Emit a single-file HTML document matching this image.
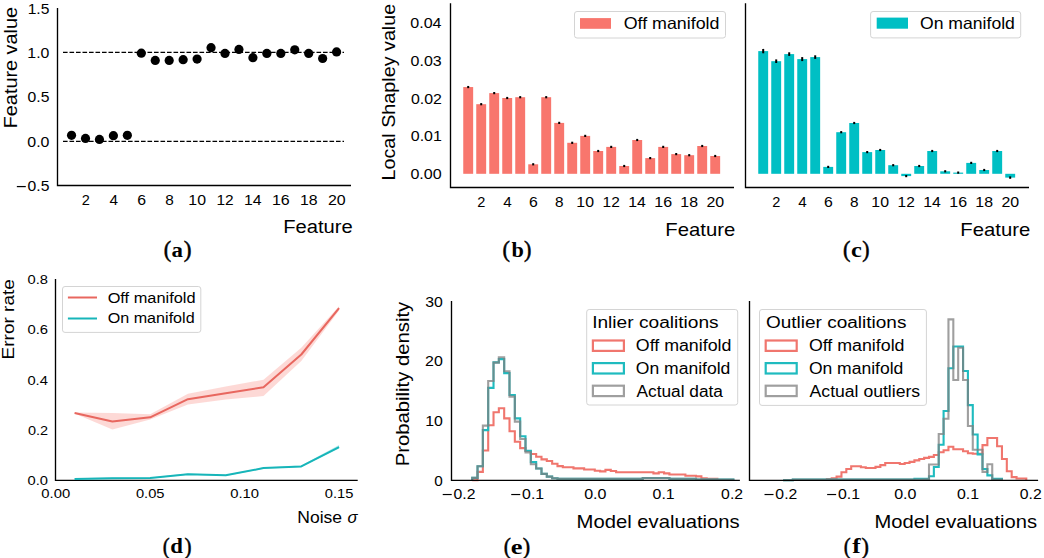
<!DOCTYPE html>
<html><head><meta charset="utf-8"><style>
html,body{margin:0;padding:0;background:#fff;}
body{width:1044px;height:558px;overflow:hidden;}
svg{display:block;font-family:"Liberation Sans",sans-serif;}
</style></head><body>
<svg width="1044" height="558" viewBox="0 0 1044 558">
<rect width="1044" height="558" fill="#fff"/>
<path d="M57.5 8V185.5H351" stroke="#000" stroke-width="1.35" fill="none" stroke-linejoin="miter"/>
<text x="27.68" y="13.7" font-size="15.51" text-anchor="start" textLength="21.75" lengthAdjust="spacingAndGlyphs">1.5</text>
<text x="27.38" y="57.9" font-size="15.29" text-anchor="start" textLength="22.06" lengthAdjust="spacingAndGlyphs">1.0</text>
<text x="27.58" y="102.3" font-size="15.29" text-anchor="start" textLength="21.85" lengthAdjust="spacingAndGlyphs">0.5</text>
<text x="27.28" y="146.7" font-size="15.29" text-anchor="start" textLength="22.16" lengthAdjust="spacingAndGlyphs">0.0</text>
<rect x="16.84" y="185.97" width="8.94" height="1.23" fill="#000"/>
<text x="27.62" y="191.1" font-size="15.29" text-anchor="start" textLength="21.81" lengthAdjust="spacingAndGlyphs">0.5</text>
<text x="81.76" y="205" font-size="15.29" text-anchor="start" textLength="8.1" lengthAdjust="spacingAndGlyphs">2</text>
<text x="109.5" y="205" font-size="15.51" text-anchor="start" textLength="8.49" lengthAdjust="spacingAndGlyphs">4</text>
<text x="137.17" y="205" font-size="15.29" text-anchor="start" textLength="8.79" lengthAdjust="spacingAndGlyphs">6</text>
<text x="165.21" y="205" font-size="15.29" text-anchor="start" textLength="8.52" lengthAdjust="spacingAndGlyphs">8</text>
<text x="188.33" y="205" font-size="15.29" text-anchor="start" textLength="17.63" lengthAdjust="spacingAndGlyphs">10</text>
<text x="216.51" y="205" font-size="15.29" text-anchor="start" textLength="17.24" lengthAdjust="spacingAndGlyphs">12</text>
<text x="244.06" y="205" font-size="15.51" text-anchor="start" textLength="17.61" lengthAdjust="spacingAndGlyphs">14</text>
<text x="271.98" y="205" font-size="15.29" text-anchor="start" textLength="17.8" lengthAdjust="spacingAndGlyphs">16</text>
<text x="299.93" y="205" font-size="15.29" text-anchor="start" textLength="17.63" lengthAdjust="spacingAndGlyphs">18</text>
<text x="327.97" y="205" font-size="15.29" text-anchor="start" textLength="17.75" lengthAdjust="spacingAndGlyphs">20</text>
<line x1="63" y1="52.3" x2="344" y2="52.3" stroke="#000" stroke-width="1.3" stroke-linecap="butt" stroke-dasharray="4.6 1.9"/>
<line x1="63" y1="141.3" x2="344" y2="141.3" stroke="#000" stroke-width="1.3" stroke-linecap="butt" stroke-dasharray="4.6 1.9"/>
<circle cx="71.55" cy="135.3" r="4.6" fill="#000"/>
<circle cx="85.5" cy="138.4" r="4.6" fill="#000"/>
<circle cx="99.45" cy="139.4" r="4.6" fill="#000"/>
<circle cx="113.4" cy="135.7" r="4.6" fill="#000"/>
<circle cx="127.35" cy="135.3" r="4.6" fill="#000"/>
<circle cx="141.3" cy="53.2" r="4.6" fill="#000"/>
<circle cx="155.25" cy="60.4" r="4.6" fill="#000"/>
<circle cx="169.2" cy="60.4" r="4.6" fill="#000"/>
<circle cx="183.15" cy="59.7" r="4.6" fill="#000"/>
<circle cx="197.1" cy="59.1" r="4.6" fill="#000"/>
<circle cx="211.05" cy="47.7" r="4.6" fill="#000"/>
<circle cx="225" cy="53.4" r="4.6" fill="#000"/>
<circle cx="238.95" cy="49.4" r="4.6" fill="#000"/>
<circle cx="252.9" cy="57.7" r="4.6" fill="#000"/>
<circle cx="266.85" cy="53.4" r="4.6" fill="#000"/>
<circle cx="280.8" cy="53.4" r="4.6" fill="#000"/>
<circle cx="294.75" cy="49.8" r="4.6" fill="#000"/>
<circle cx="308.7" cy="53.4" r="4.6" fill="#000"/>
<circle cx="322.65" cy="58.5" r="4.6" fill="#000"/>
<circle cx="336.6" cy="51.9" r="4.6" fill="#000"/>
<text x="283.19" y="233.2" font-size="18.99" text-anchor="start" textLength="69.55" lengthAdjust="spacingAndGlyphs">Feature</text>
<text x="17.2" y="128.29" font-size="17.79" text-anchor="start" textLength="121.38" lengthAdjust="spacingAndGlyphs" transform="rotate(-90 17.2 128.29)">Feature value</text>
<text x="163.69" y="257.23" font-size="22.2" text-anchor="start" textLength="7.44" lengthAdjust="spacingAndGlyphs" font-family="Liberation Serif" stroke="#000" stroke-width="0.5">(</text>
<text x="171.51" y="257" font-size="20.43" text-anchor="start" textLength="11.43" lengthAdjust="spacingAndGlyphs" font-family="Liberation Serif" font-weight="bold">a</text>
<text x="183.7" y="257.29" font-size="22.44" text-anchor="start" textLength="7.81" lengthAdjust="spacingAndGlyphs" font-family="Liberation Serif" stroke="#000" stroke-width="0.5">)</text>
<path d="M450.5 3.2V187.5H734" stroke="#000" stroke-width="1.35" fill="none" stroke-linejoin="miter"/>
<rect x="463.25" y="87.05" width="9.9" height="86.75" fill="#F8766D"/>
<line x1="468.2" y1="85.95" x2="468.2" y2="88.15" stroke="#000" stroke-width="2" stroke-linecap="butt"/>
<rect x="476.25" y="104.2" width="9.9" height="69.6" fill="#F8766D"/>
<line x1="481.2" y1="103.1" x2="481.2" y2="105.3" stroke="#000" stroke-width="2" stroke-linecap="butt"/>
<rect x="489.25" y="93.1" width="9.9" height="80.7" fill="#F8766D"/>
<line x1="494.2" y1="92" x2="494.2" y2="94.2" stroke="#000" stroke-width="2" stroke-linecap="butt"/>
<rect x="502.25" y="98" width="9.9" height="75.8" fill="#F8766D"/>
<line x1="507.2" y1="96.9" x2="507.2" y2="99.1" stroke="#000" stroke-width="2" stroke-linecap="butt"/>
<rect x="515.25" y="97.2" width="9.9" height="76.6" fill="#F8766D"/>
<line x1="520.2" y1="96.1" x2="520.2" y2="98.3" stroke="#000" stroke-width="2" stroke-linecap="butt"/>
<rect x="528.25" y="164.3" width="9.9" height="9.5" fill="#F8766D"/>
<line x1="533.2" y1="163.2" x2="533.2" y2="165.4" stroke="#000" stroke-width="2" stroke-linecap="butt"/>
<rect x="541.25" y="97.2" width="9.9" height="76.6" fill="#F8766D"/>
<line x1="546.2" y1="96.1" x2="546.2" y2="98.3" stroke="#000" stroke-width="2" stroke-linecap="butt"/>
<rect x="554.25" y="122.9" width="9.9" height="50.9" fill="#F8766D"/>
<line x1="559.2" y1="121.8" x2="559.2" y2="124" stroke="#000" stroke-width="2" stroke-linecap="butt"/>
<rect x="567.25" y="142.8" width="9.9" height="31" fill="#F8766D"/>
<line x1="572.2" y1="141.7" x2="572.2" y2="143.9" stroke="#000" stroke-width="2" stroke-linecap="butt"/>
<rect x="580.25" y="135.9" width="9.9" height="37.9" fill="#F8766D"/>
<line x1="585.2" y1="134.8" x2="585.2" y2="137" stroke="#000" stroke-width="2" stroke-linecap="butt"/>
<rect x="593.25" y="151" width="9.9" height="22.8" fill="#F8766D"/>
<line x1="598.2" y1="149.9" x2="598.2" y2="152.1" stroke="#000" stroke-width="2" stroke-linecap="butt"/>
<rect x="606.25" y="146.9" width="9.9" height="26.9" fill="#F8766D"/>
<line x1="611.2" y1="145.8" x2="611.2" y2="148" stroke="#000" stroke-width="2" stroke-linecap="butt"/>
<rect x="619.25" y="166" width="9.9" height="7.8" fill="#F8766D"/>
<line x1="624.2" y1="164.9" x2="624.2" y2="167.1" stroke="#000" stroke-width="2" stroke-linecap="butt"/>
<rect x="632.25" y="140" width="9.9" height="33.8" fill="#F8766D"/>
<line x1="637.2" y1="138.9" x2="637.2" y2="141.1" stroke="#000" stroke-width="2" stroke-linecap="butt"/>
<rect x="645.25" y="158.1" width="9.9" height="15.7" fill="#F8766D"/>
<line x1="650.2" y1="157" x2="650.2" y2="159.2" stroke="#000" stroke-width="2" stroke-linecap="butt"/>
<rect x="658.25" y="146.9" width="9.9" height="26.9" fill="#F8766D"/>
<line x1="663.2" y1="145.8" x2="663.2" y2="148" stroke="#000" stroke-width="2" stroke-linecap="butt"/>
<rect x="671.25" y="154.1" width="9.9" height="19.7" fill="#F8766D"/>
<line x1="676.2" y1="153" x2="676.2" y2="155.2" stroke="#000" stroke-width="2" stroke-linecap="butt"/>
<rect x="684.25" y="155.2" width="9.9" height="18.6" fill="#F8766D"/>
<line x1="689.2" y1="154.1" x2="689.2" y2="156.3" stroke="#000" stroke-width="2" stroke-linecap="butt"/>
<rect x="697.25" y="146" width="9.9" height="27.8" fill="#F8766D"/>
<line x1="702.2" y1="144.9" x2="702.2" y2="147.1" stroke="#000" stroke-width="2" stroke-linecap="butt"/>
<rect x="710.25" y="156" width="9.9" height="17.8" fill="#F8766D"/>
<line x1="715.2" y1="154.9" x2="715.2" y2="157.1" stroke="#000" stroke-width="2" stroke-linecap="butt"/>
<text x="477.36" y="207.2" font-size="14.86" text-anchor="start" textLength="8.1" lengthAdjust="spacingAndGlyphs">2</text>
<text x="503.2" y="207.2" font-size="15.07" text-anchor="start" textLength="8.49" lengthAdjust="spacingAndGlyphs">4</text>
<text x="528.97" y="207.2" font-size="14.86" text-anchor="start" textLength="8.79" lengthAdjust="spacingAndGlyphs">6</text>
<text x="555.11" y="207.2" font-size="14.86" text-anchor="start" textLength="8.52" lengthAdjust="spacingAndGlyphs">8</text>
<text x="576.33" y="207.2" font-size="14.86" text-anchor="start" textLength="17.63" lengthAdjust="spacingAndGlyphs">10</text>
<text x="602.61" y="207.2" font-size="14.86" text-anchor="start" textLength="17.24" lengthAdjust="spacingAndGlyphs">12</text>
<text x="628.26" y="207.2" font-size="15.07" text-anchor="start" textLength="17.61" lengthAdjust="spacingAndGlyphs">14</text>
<text x="654.28" y="207.2" font-size="14.86" text-anchor="start" textLength="17.8" lengthAdjust="spacingAndGlyphs">16</text>
<text x="680.33" y="207.2" font-size="14.86" text-anchor="start" textLength="17.63" lengthAdjust="spacingAndGlyphs">18</text>
<text x="706.47" y="207.2" font-size="14.86" text-anchor="start" textLength="17.75" lengthAdjust="spacingAndGlyphs">20</text>
<text x="665.38" y="235.6" font-size="18.84" text-anchor="start" textLength="69.86" lengthAdjust="spacingAndGlyphs">Feature</text>
<rect x="574.5" y="11.5" width="151" height="26.5" fill="#fff" stroke="#d4d4d4" stroke-width="1" rx="2.5"/>
<rect x="580" y="18.1" width="31" height="10.7" fill="#F8766D"/>
<text x="623.7" y="29.1" font-size="16.28" text-anchor="start" textLength="95.82" lengthAdjust="spacingAndGlyphs">Off manifold</text>
<text x="410.4" y="179.1" font-size="15.43" text-anchor="start" textLength="31.26" lengthAdjust="spacingAndGlyphs">0.00</text>
<text x="410.76" y="141.4" font-size="15.43" text-anchor="start" textLength="31.06" lengthAdjust="spacingAndGlyphs">0.01</text>
<text x="410.91" y="103.7" font-size="15.43" text-anchor="start" textLength="30.91" lengthAdjust="spacingAndGlyphs">0.02</text>
<text x="410.62" y="66" font-size="15.43" text-anchor="start" textLength="31.12" lengthAdjust="spacingAndGlyphs">0.03</text>
<text x="410.26" y="28.3" font-size="15.43" text-anchor="start" textLength="31.25" lengthAdjust="spacingAndGlyphs">0.04</text>
<text x="394.6" y="180.48" font-size="17.52" text-anchor="start" textLength="176.69" lengthAdjust="spacingAndGlyphs" transform="rotate(-90 394.6 180.48)">Local Shapley value</text>
<text x="502.59" y="257.23" font-size="22.2" text-anchor="start" textLength="7.44" lengthAdjust="spacingAndGlyphs" font-family="Liberation Serif" stroke="#000" stroke-width="0.5">(</text>
<text x="511.47" y="257" font-size="20.72" text-anchor="start" textLength="12.35" lengthAdjust="spacingAndGlyphs" font-family="Liberation Serif" font-weight="bold">b</text>
<text x="524.03" y="257.29" font-size="22.44" text-anchor="start" textLength="7.43" lengthAdjust="spacingAndGlyphs" font-family="Liberation Serif" stroke="#000" stroke-width="0.5">)</text>
<path d="M745.5 3.2V187.5H1029" stroke="#000" stroke-width="1.35" fill="none" stroke-linejoin="miter"/>
<rect x="758.25" y="51.1" width="9.9" height="122.7" fill="#00BFC4"/>
<line x1="763.2" y1="48.9" x2="763.2" y2="53.3" stroke="#000" stroke-width="2" stroke-linecap="butt"/>
<rect x="771.25" y="61.2" width="9.9" height="112.6" fill="#00BFC4"/>
<line x1="776.2" y1="59.4" x2="776.2" y2="63" stroke="#000" stroke-width="2" stroke-linecap="butt"/>
<rect x="784.25" y="54.1" width="9.9" height="119.7" fill="#00BFC4"/>
<line x1="789.2" y1="52.3" x2="789.2" y2="55.9" stroke="#000" stroke-width="2" stroke-linecap="butt"/>
<rect x="797.25" y="59.1" width="9.9" height="114.7" fill="#00BFC4"/>
<line x1="802.2" y1="57.1" x2="802.2" y2="61.1" stroke="#000" stroke-width="2" stroke-linecap="butt"/>
<rect x="810.25" y="57.1" width="9.9" height="116.7" fill="#00BFC4"/>
<line x1="815.2" y1="55.3" x2="815.2" y2="58.9" stroke="#000" stroke-width="2" stroke-linecap="butt"/>
<rect x="823.25" y="166.9" width="9.9" height="6.9" fill="#00BFC4"/>
<line x1="828.2" y1="165.8" x2="828.2" y2="168" stroke="#000" stroke-width="2" stroke-linecap="butt"/>
<rect x="836.25" y="132.2" width="9.9" height="41.6" fill="#00BFC4"/>
<line x1="841.2" y1="131.1" x2="841.2" y2="133.3" stroke="#000" stroke-width="2" stroke-linecap="butt"/>
<rect x="849.25" y="123" width="9.9" height="50.8" fill="#00BFC4"/>
<line x1="854.2" y1="121.9" x2="854.2" y2="124.1" stroke="#000" stroke-width="2" stroke-linecap="butt"/>
<rect x="862.25" y="152.1" width="9.9" height="21.7" fill="#00BFC4"/>
<line x1="867.2" y1="151" x2="867.2" y2="153.2" stroke="#000" stroke-width="2" stroke-linecap="butt"/>
<rect x="875.25" y="150" width="9.9" height="23.8" fill="#00BFC4"/>
<line x1="880.2" y1="148.9" x2="880.2" y2="151.1" stroke="#000" stroke-width="2" stroke-linecap="butt"/>
<rect x="888.25" y="165.2" width="9.9" height="8.6" fill="#00BFC4"/>
<line x1="893.2" y1="164.1" x2="893.2" y2="166.3" stroke="#000" stroke-width="2" stroke-linecap="butt"/>
<rect x="901.25" y="173.8" width="9.9" height="2.3" fill="#00BFC4"/>
<line x1="906.2" y1="175" x2="906.2" y2="177.2" stroke="#000" stroke-width="2" stroke-linecap="butt"/>
<rect x="914.25" y="166" width="9.9" height="7.8" fill="#00BFC4"/>
<line x1="919.2" y1="164.9" x2="919.2" y2="167.1" stroke="#000" stroke-width="2" stroke-linecap="butt"/>
<rect x="927.25" y="151" width="9.9" height="22.8" fill="#00BFC4"/>
<line x1="932.2" y1="149.9" x2="932.2" y2="152.1" stroke="#000" stroke-width="2" stroke-linecap="butt"/>
<rect x="940.25" y="171.3" width="9.9" height="2.5" fill="#00BFC4"/>
<line x1="945.2" y1="170.2" x2="945.2" y2="172.4" stroke="#000" stroke-width="2" stroke-linecap="butt"/>
<rect x="953.25" y="172.6" width="9.9" height="1.2" fill="#00BFC4"/>
<line x1="958.2" y1="171.5" x2="958.2" y2="173.7" stroke="#000" stroke-width="2" stroke-linecap="butt"/>
<rect x="966.25" y="162.9" width="9.9" height="10.9" fill="#00BFC4"/>
<line x1="971.2" y1="161.8" x2="971.2" y2="164" stroke="#000" stroke-width="2" stroke-linecap="butt"/>
<rect x="979.25" y="170" width="9.9" height="3.8" fill="#00BFC4"/>
<line x1="984.2" y1="168.9" x2="984.2" y2="171.1" stroke="#000" stroke-width="2" stroke-linecap="butt"/>
<rect x="992.25" y="151" width="9.9" height="22.8" fill="#00BFC4"/>
<line x1="997.2" y1="149.9" x2="997.2" y2="152.1" stroke="#000" stroke-width="2" stroke-linecap="butt"/>
<rect x="1005.25" y="173.8" width="9.9" height="3.8" fill="#00BFC4"/>
<line x1="1010.2" y1="176.4" x2="1010.2" y2="178.8" stroke="#000" stroke-width="2" stroke-linecap="butt"/>
<text x="772.36" y="207.2" font-size="14.86" text-anchor="start" textLength="8.1" lengthAdjust="spacingAndGlyphs">2</text>
<text x="798.2" y="207.2" font-size="15.07" text-anchor="start" textLength="8.49" lengthAdjust="spacingAndGlyphs">4</text>
<text x="823.97" y="207.2" font-size="14.86" text-anchor="start" textLength="8.79" lengthAdjust="spacingAndGlyphs">6</text>
<text x="850.11" y="207.2" font-size="14.86" text-anchor="start" textLength="8.52" lengthAdjust="spacingAndGlyphs">8</text>
<text x="871.33" y="207.2" font-size="14.86" text-anchor="start" textLength="17.63" lengthAdjust="spacingAndGlyphs">10</text>
<text x="897.61" y="207.2" font-size="14.86" text-anchor="start" textLength="17.24" lengthAdjust="spacingAndGlyphs">12</text>
<text x="923.26" y="207.2" font-size="15.07" text-anchor="start" textLength="17.61" lengthAdjust="spacingAndGlyphs">14</text>
<text x="949.28" y="207.2" font-size="14.86" text-anchor="start" textLength="17.8" lengthAdjust="spacingAndGlyphs">16</text>
<text x="975.33" y="207.2" font-size="14.86" text-anchor="start" textLength="17.63" lengthAdjust="spacingAndGlyphs">18</text>
<text x="1001.47" y="207.2" font-size="14.86" text-anchor="start" textLength="17.75" lengthAdjust="spacingAndGlyphs">20</text>
<text x="960.38" y="235.6" font-size="18.84" text-anchor="start" textLength="69.86" lengthAdjust="spacingAndGlyphs">Feature</text>
<rect x="870.6" y="11.5" width="150.1" height="26.4" fill="#fff" stroke="#d4d4d4" stroke-width="1" rx="2.5"/>
<rect x="876.7" y="17.6" width="31.3" height="11.1" fill="#00BFC4"/>
<text x="920.01" y="29.1" font-size="16.28" text-anchor="start" textLength="94.87" lengthAdjust="spacingAndGlyphs">On manifold</text>
<text x="842.99" y="257.23" font-size="22.2" text-anchor="start" textLength="7.44" lengthAdjust="spacingAndGlyphs" font-family="Liberation Serif" stroke="#000" stroke-width="0.5">(</text>
<text x="850.95" y="257" font-size="20.43" text-anchor="start" textLength="10.84" lengthAdjust="spacingAndGlyphs" font-family="Liberation Serif" font-weight="bold">c</text>
<text x="862.34" y="257.29" font-size="22.44" text-anchor="start" textLength="7.3" lengthAdjust="spacingAndGlyphs" font-family="Liberation Serif" stroke="#000" stroke-width="0.5">)</text>
<path d="M55.5 279.1V480.3H357.7" stroke="#000" stroke-width="1.35" fill="none" stroke-linejoin="miter"/>
<text x="27.54" y="485.2" font-size="13.14" text-anchor="start" textLength="20.45" lengthAdjust="spacingAndGlyphs">0.0</text>
<text x="28.01" y="434.9" font-size="13.14" text-anchor="start" textLength="20.11" lengthAdjust="spacingAndGlyphs">0.2</text>
<text x="27.41" y="384.6" font-size="13.14" text-anchor="start" textLength="20.44" lengthAdjust="spacingAndGlyphs">0.4</text>
<text x="27.47" y="334.3" font-size="13.14" text-anchor="start" textLength="20.6" lengthAdjust="spacingAndGlyphs">0.6</text>
<text x="27.54" y="284" font-size="13.14" text-anchor="start" textLength="20.45" lengthAdjust="spacingAndGlyphs">0.8</text>
<text x="41.38" y="497.7" font-size="12.43" text-anchor="start" textLength="28.86" lengthAdjust="spacingAndGlyphs">0.00</text>
<text x="135.95" y="497.7" font-size="12.43" text-anchor="start" textLength="28.58" lengthAdjust="spacingAndGlyphs">0.05</text>
<text x="230.24" y="497.7" font-size="12.43" text-anchor="start" textLength="28.86" lengthAdjust="spacingAndGlyphs">0.10</text>
<text x="324.81" y="497.7" font-size="12.43" text-anchor="start" textLength="28.58" lengthAdjust="spacingAndGlyphs">0.15</text>
<polygon points="74.6,412.6 112.38,413 150.16,414.2 187.94,393.8 225.72,386.6 263.5,379.7 301.28,347.8 339.06,306.2 339.06,310.4 301.28,361 263.5,396 225.72,399.5 187.94,404.4 150.16,419.6 112.38,429.6 74.6,413.4" fill="#F8766D" fill-opacity="0.28"/>
<polygon points="74.6,478.3 112.38,477.6 150.16,477.5 187.94,473.6 225.72,474.7 263.5,467.5 301.28,465.4 339.06,445 339.06,448.6 301.28,467 263.5,468.7 225.72,475.9 187.94,474.8 150.16,478.7 112.38,478.8 74.6,479.5" fill="#00BFC4" fill-opacity="0.3"/>
<path d="M74.6 413 L112.38 421.4 L150.16 417.3 L187.94 399.2 L225.72 393.2 L263.5 387.3 L301.28 354.5 L339.06 308.2" stroke="#E8675F" stroke-width="2" fill="none" stroke-linejoin="round"/>
<path d="M74.6 478.9 L112.38 478.2 L150.16 478.1 L187.94 474.2 L225.72 475.3 L263.5 468.1 L301.28 466.4 L339.06 447.2" stroke="#17B5B9" stroke-width="2" fill="none" stroke-linejoin="round"/>
<rect x="62.5" y="286.5" width="138.3" height="45.9" fill="#fff" stroke="#d4d4d4" stroke-width="1" rx="2.5"/>
<line x1="67.9" y1="297.5" x2="97" y2="297.5" stroke="#E8675F" stroke-width="2" stroke-linecap="butt"/>
<line x1="67.9" y1="318.5" x2="97" y2="318.5" stroke="#17B5B9" stroke-width="2" stroke-linecap="butt"/>
<text x="107.66" y="302.7" font-size="14.76" text-anchor="start" textLength="87.85" lengthAdjust="spacingAndGlyphs">Off manifold</text>
<text x="107.67" y="323.4" font-size="14.76" text-anchor="start" textLength="87" lengthAdjust="spacingAndGlyphs">On manifold</text>
<text x="14.2" y="359.42" font-size="17.25" text-anchor="start" textLength="80.34" lengthAdjust="spacingAndGlyphs" transform="rotate(-90 14.2 359.42)">Error rate</text>
<text x="297.3" y="522.8" font-size="16.28" text-anchor="start" textLength="44.82" lengthAdjust="spacingAndGlyphs">Noise</text>
<text x="347.42" y="522.8" font-size="17.17" text-anchor="start" textLength="10.05" lengthAdjust="spacingAndGlyphs" font-style="italic">σ</text>
<text x="162.86" y="553.53" font-size="22.64" text-anchor="start" textLength="6.92" lengthAdjust="spacingAndGlyphs" font-family="Liberation Serif" stroke="#000" stroke-width="0.5">(</text>
<text x="170.19" y="553.4" font-size="20.86" text-anchor="start" textLength="12.67" lengthAdjust="spacingAndGlyphs" font-family="Liberation Serif" font-weight="bold">d</text>
<text x="184.47" y="553.59" font-size="22.89" text-anchor="start" textLength="7.05" lengthAdjust="spacingAndGlyphs" font-family="Liberation Serif" stroke="#000" stroke-width="0.5">)</text>
<path d="M472.2 480.3 V480.3 H477.53 V471.9 H482.86 V450.5 H488.19 V425.2 H493.52 V412.3 H498.85 V408.3 H504.18 V418.4 H509.51 V431.3 H514.84 V441.7 H520.17 V448.1 H525.5 V451 H530.83 V454 H536.16 V456.7 H541.49 V459.4 H546.82 V461 H552.15 V463.7 H557.48 V466.1 H562.81 V467.2 H568.14 V467.2 H573.47 V468.4 H578.8 V468.4 H584.13 V469.5 H589.46 V469.5 H594.79 V470.7 H600.12 V471.4 H605.45 V469.9 H610.78 V471 H616.11 V472.2 H621.44 V472.2 H626.77 V472.2 H632.1 V472.2 H637.43 V472.2 H642.76 V472.2 H648.09 V472.2 H653.42 V473.4 H658.75 V472.2 H664.08 V473.4 H669.41 V474.5 H674.74 V474.5 H680.07 V474.5 H685.4 V475.7 H690.73 V475.7 H696.06 V476.4 H701.39 V478.3 H706.72 V478.7 H712.05 V478.7 H717.38 V480.3" stroke="#F0766E" stroke-width="2.1" fill="none" stroke-linejoin="miter"/>
<path d="M472.2 480.3 V477.9 H477.53 V466.2 H482.86 V430.1 H488.19 V387.9 H493.52 V362.4 H498.85 V359.1 H504.18 V373.1 H509.51 V395 H514.84 V418.4 H520.17 V436.3 H525.5 V450.8 H530.83 V462.1 H536.16 V468.5 H541.49 V473.9 H546.82 V476.6 H552.15 V478.2 H557.48 V478.8 H562.81 V478.8 H568.14 V478.8 H573.47 V478.8 H578.8 V478.8 H584.13 V478.8 H589.46 V478.8 H594.79 V478.8 H600.12 V478.8 H605.45 V478.8 H610.78 V478.8 H616.11 V478.8 H621.44 V478.8 H626.77 V478.8 H632.1 V478.8 H637.43 V478.8 H642.76 V478 H648.09 V478 H653.42 V478 H658.75 V478 H664.08 V478 H669.41 V478.7 H674.74 V478.7 H680.07 V478.7 H685.4 V478.7 H690.73 V478.7 H696.06 V479.6 H701.39 V479.6 H706.72 V479.6 H712.05 V479.6 H717.38 V479.6 H722.71 V479.6 H728.04 V479.6 H733.37 V480.3" stroke="#1FBBBF" stroke-width="2.1" fill="none" stroke-linejoin="miter"/>
<path d="M472.2 480.3 V477.9 H477.53 V466.2 H482.86 V425.6 H488.19 V381 H493.52 V362.6 H498.85 V357.3 H504.18 V371.2 H509.51 V396.6 H514.84 V421.6 H520.17 V439 H525.5 V452.4 H530.83 V464.2 H536.16 V468.5 H541.49 V473.9 H546.82 V476.6 H552.15 V478.2 H557.48 V478.8 H562.81 V478.8 H568.14 V478.8 H573.47 V478.8 H578.8 V478.8 H584.13 V478.8 H589.46 V478.8 H594.79 V478.8 H600.12 V478.8 H605.45 V478.8 H610.78 V478.8 H616.11 V478.8 H621.44 V478.8 H626.77 V478.8 H632.1 V478.8 H637.43 V478.8 H642.76 V478 H648.09 V478 H653.42 V478 H658.75 V478 H664.08 V478 H669.41 V478.7 H674.74 V478.7 H680.07 V478.7 H685.4 V478.7 H690.73 V478.7 H696.06 V479.6 H701.39 V479.6 H706.72 V479.6 H712.05 V479.6 H717.38 V479.6 H722.71 V479.6 H728.04 V479.6 H733.37 V480.3" stroke="#7F7F7F" stroke-width="2.1" fill="none" stroke-linejoin="miter" stroke-opacity="0.75"/>
<path d="M451.5 301.1V480.3H739.9" stroke="#000" stroke-width="1.35" fill="none" stroke-linejoin="miter"/>
<rect x="442.72" y="493.95" width="9" height="1.16" fill="#000"/>
<text x="453.58" y="498.8" font-size="14.43" text-anchor="start" textLength="21.9" lengthAdjust="spacingAndGlyphs">0.2</text>
<rect x="511.24" y="493.95" width="9" height="1.16" fill="#000"/>
<text x="522.1" y="498.8" font-size="14.43" text-anchor="start" textLength="22.05" lengthAdjust="spacingAndGlyphs">0.1</text>
<text x="584.15" y="498.8" font-size="14.43" text-anchor="start" textLength="22.31" lengthAdjust="spacingAndGlyphs">0.0</text>
<text x="652.63" y="498.8" font-size="14.43" text-anchor="start" textLength="22.1" lengthAdjust="spacingAndGlyphs">0.1</text>
<text x="721.11" y="498.8" font-size="14.43" text-anchor="start" textLength="21.94" lengthAdjust="spacingAndGlyphs">0.2</text>
<rect x="586.7" y="309.5" width="151" height="95.5" fill="#fff" stroke="#d4d4d4" stroke-width="1" rx="2.5" fill-opacity="0.8"/>
<text x="592.18" y="328.3" font-size="16.41" text-anchor="start" textLength="126.48" lengthAdjust="spacingAndGlyphs">Inlier coalitions</text>
<rect x="592.9" y="340.5" width="31" height="10.4" fill="none" stroke="#F0766E" stroke-width="2.2"/>
<text x="635.8" y="350.9" font-size="16" text-anchor="start" textLength="95.61" lengthAdjust="spacingAndGlyphs">Off manifold</text>
<rect x="592.9" y="363.1" width="31" height="10.4" fill="none" stroke="#1FBBBF" stroke-width="2.2"/>
<text x="635.81" y="373.75" font-size="16" text-anchor="start" textLength="94.56" lengthAdjust="spacingAndGlyphs">On manifold</text>
<rect x="592.9" y="385.7" width="31" height="10.4" fill="none" stroke="#7F7F7F" stroke-width="2.2" stroke-opacity="0.75"/>
<text x="636.51" y="396.6" font-size="16" text-anchor="start" textLength="86.45" lengthAdjust="spacingAndGlyphs">Actual data</text>
<text x="434.32" y="485.8" font-size="15.14" text-anchor="start" textLength="8.51" lengthAdjust="spacingAndGlyphs">0</text>
<text x="425.24" y="426.07" font-size="15.14" text-anchor="start" textLength="17.63" lengthAdjust="spacingAndGlyphs">10</text>
<text x="425.13" y="366.34" font-size="15.14" text-anchor="start" textLength="17.75" lengthAdjust="spacingAndGlyphs">20</text>
<text x="425.3" y="306.61" font-size="15.14" text-anchor="start" textLength="17.57" lengthAdjust="spacingAndGlyphs">30</text>
<text x="409.3" y="466.32" font-size="17.79" text-anchor="start" textLength="164.53" lengthAdjust="spacingAndGlyphs" transform="rotate(-90 409.3 466.32)">Probability density</text>
<text x="576.58" y="527.7" font-size="18.34" text-anchor="start" textLength="163.04" lengthAdjust="spacingAndGlyphs">Model evaluations</text>
<text x="503.63" y="553.53" font-size="22.64" text-anchor="start" textLength="7.18" lengthAdjust="spacingAndGlyphs" font-family="Liberation Serif" stroke="#000" stroke-width="0.5">(</text>
<text x="510.87" y="553.5" font-size="20.43" text-anchor="start" textLength="11.76" lengthAdjust="spacingAndGlyphs" font-family="Liberation Serif" font-weight="bold">e</text>
<text x="522.73" y="553.59" font-size="22.89" text-anchor="start" textLength="7.43" lengthAdjust="spacingAndGlyphs" font-family="Liberation Serif" stroke="#000" stroke-width="0.5">)</text>
<path d="M826.86 480.3 V479.1 H831.72 V478.4 H836.58 V476.6 H841.45 V472.3 H846.31 V469 H851.18 V466.2 H856.04 V466.2 H860.9 V467.2 H865.77 V468 H870.63 V468 H875.5 V466.9 H880.36 V465.1 H885.22 V463 H890.09 V463 H894.95 V463 H899.82 V464 H904.68 V463 H909.54 V461.9 H914.41 V460.4 H919.27 V459 H924.14 V457.9 H929 V456.9 H933.86 V455 H938.73 V452.2 H943.59 V450.2 H948.46 V446.7 H953.32 V449.2 H958.18 V449.2 H963.05 V451.2 H967.91 V453.2 H972.78 V453.8 H977.64 V453.8 H982.5 V445.1 H987.37 V438 H992.23 V438 H997.1 V446.2 H1001.96 V459 H1006.82 V471.3 H1011.69 V477.1 H1016.55 V478.5 H1021.42 V478.5 H1026.28 V480.3" stroke="#F0766E" stroke-width="2.1" fill="none" stroke-linejoin="miter"/>
<path d="M783.08 480.3 V480.3 H787.94 V480.3 H792.81 V479.6 H797.67 V479.6 H802.54 V479.6 H807.4 V479.6 H812.26 V479.6 H817.13 V479.6 H821.99 V479.6 H826.86 V479.6 H831.72 V479.6 H836.58 V479.6 H841.45 V479.6 H846.31 V479.6 H851.18 V479.6 H856.04 V479.6 H860.9 V479.6 H865.77 V479.6 H870.63 V479.6 H875.5 V479.6 H880.36 V479.6 H885.22 V479.6 H890.09 V479.6 H894.95 V479.6 H899.82 V479.6 H904.68 V479.6 H909.54 V479.6 H914.41 V478.8 H919.27 V478.8 H924.14 V478.8 H929 V476.3 H933.86 V467 H938.73 V444.8 H943.59 V411 H948.46 V368.2 H953.32 V346.5 H958.18 V346.5 H963.05 V371 H967.91 V405.1 H972.78 V434.5 H977.64 V454.4 H982.5 V469 H987.37 V475.4 H992.23 V478.9 H997.1 V478.9 H1001.96 V480.3" stroke="#1FBBBF" stroke-width="2.1" fill="none" stroke-linejoin="miter"/>
<path d="M783.08 480.3 V480.3 H787.94 V480.3 H792.81 V479.6 H797.67 V479.6 H802.54 V479.6 H807.4 V479.6 H812.26 V479.6 H817.13 V479.6 H821.99 V479.6 H826.86 V479.6 H831.72 V479.6 H836.58 V479.6 H841.45 V479.6 H846.31 V479.6 H851.18 V479.6 H856.04 V479.6 H860.9 V479.6 H865.77 V479.6 H870.63 V479.6 H875.5 V479.6 H880.36 V479.6 H885.22 V479.6 H890.09 V479.6 H894.95 V479.6 H899.82 V479.6 H904.68 V479.6 H909.54 V479.6 H914.41 V479.6 H919.27 V479.6 H924.14 V479.3 H929 V464.5 H933.86 V464.5 H938.73 V434 H943.59 V418.7 H948.46 V319.4 H953.32 V380 H958.18 V347.7 H963.05 V380 H967.91 V426 H972.78 V449.7 H977.64 V449.7 H982.5 V471.9 H987.37 V464.3 H992.23 V479.5 H997.1 V479.5 H1001.96 V480.3" stroke="#7F7F7F" stroke-width="2.1" fill="none" stroke-linejoin="miter" stroke-opacity="0.75"/>
<path d="M749.5 301.1V480.3H1038.1" stroke="#000" stroke-width="1.35" fill="none" stroke-linejoin="miter"/>
<rect x="764.52" y="493.95" width="9" height="1.16" fill="#000"/>
<text x="775.38" y="498.8" font-size="14.43" text-anchor="start" textLength="21.9" lengthAdjust="spacingAndGlyphs">0.2</text>
<rect x="827.14" y="493.95" width="9" height="1.16" fill="#000"/>
<text x="838" y="498.8" font-size="14.43" text-anchor="start" textLength="22.05" lengthAdjust="spacingAndGlyphs">0.1</text>
<text x="894.15" y="498.8" font-size="14.43" text-anchor="start" textLength="22.31" lengthAdjust="spacingAndGlyphs">0.0</text>
<text x="956.93" y="498.8" font-size="14.43" text-anchor="start" textLength="22.1" lengthAdjust="spacingAndGlyphs">0.1</text>
<text x="1019.81" y="498.8" font-size="14.43" text-anchor="start" textLength="21.94" lengthAdjust="spacingAndGlyphs">0.2</text>
<rect x="759.5" y="309.5" width="166.9" height="95.9" fill="#fff" stroke="#d4d4d4" stroke-width="1" rx="2.5" fill-opacity="0.8"/>
<text x="765.94" y="328.3" font-size="16.41" text-anchor="start" textLength="140.46" lengthAdjust="spacingAndGlyphs">Outlier coalitions</text>
<rect x="765.7" y="340.5" width="31" height="10.4" fill="none" stroke="#F0766E" stroke-width="2.2"/>
<text x="808.9" y="350.9" font-size="16" text-anchor="start" textLength="95.61" lengthAdjust="spacingAndGlyphs">Off manifold</text>
<rect x="765.7" y="363.1" width="31" height="10.4" fill="none" stroke="#1FBBBF" stroke-width="2.2"/>
<text x="808.91" y="373.75" font-size="16" text-anchor="start" textLength="94.36" lengthAdjust="spacingAndGlyphs">On manifold</text>
<rect x="765.7" y="385.7" width="31" height="10.4" fill="none" stroke="#7F7F7F" stroke-width="2.2" stroke-opacity="0.75"/>
<text x="809.61" y="396.6" font-size="16" text-anchor="start" textLength="110.52" lengthAdjust="spacingAndGlyphs">Actual outliers</text>
<text x="874.59" y="527.9" font-size="18.34" text-anchor="start" textLength="162.43" lengthAdjust="spacingAndGlyphs">Model evaluations</text>
<text x="843.86" y="553.53" font-size="22.64" text-anchor="start" textLength="6.92" lengthAdjust="spacingAndGlyphs" font-family="Liberation Serif" stroke="#000" stroke-width="0.5">(</text>
<text x="852.17" y="553.4" font-size="20.57" text-anchor="start" textLength="8.42" lengthAdjust="spacingAndGlyphs" font-family="Liberation Serif" font-weight="bold">f</text>
<text x="861.43" y="553.59" font-size="22.89" text-anchor="start" textLength="7.43" lengthAdjust="spacingAndGlyphs" font-family="Liberation Serif" stroke="#000" stroke-width="0.5">)</text>
</svg>
</body></html>
